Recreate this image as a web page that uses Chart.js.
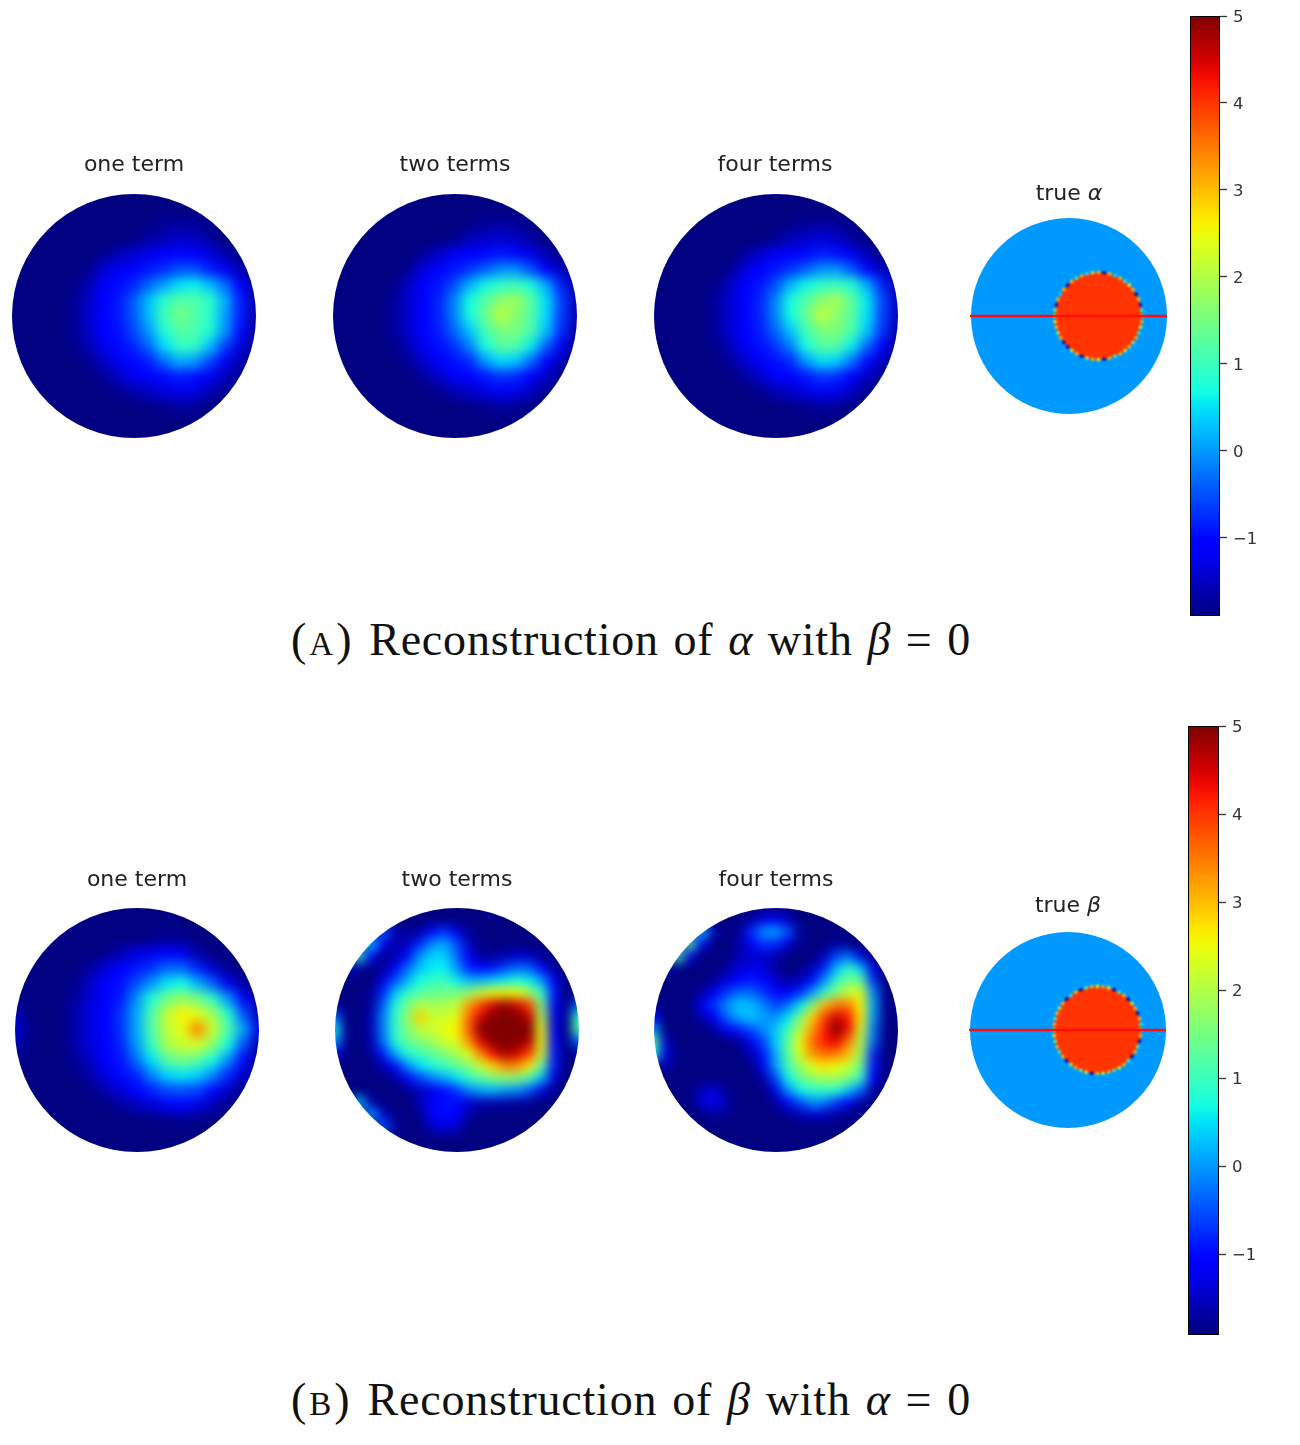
<!DOCTYPE html>
<html>
<head>
<meta charset="utf-8">
<title>Reconstruction of alpha and beta</title>
<script src="https://cdn.jsdelivr.net/npm/chart.js@4/dist/chart.umd.min.js"></script>
<style>
    html, body { margin: 0; padding: 0; background: #fff; }
    #page { position: relative; width: 1300px; height: 1445px; overflow: hidden; }
    #page canvas { position: absolute; }
    .panel_title {
        position: absolute; width: 240px; text-align: center; line-height: 26px;
        font-family: "DejaVu Sans"; font-size: 22px; color: #222; filter: blur(0.4px);
    }
    .caption {
        position: absolute; left: 291px; width: 680px; line-height: 50px;
        font-family: "Liberation Serif"; font-size: 46px; letter-spacing: 0.8px; color: #111;
        text-align: justify; text-align-last: justify;
    }
    .caption .tag { letter-spacing: 3px; }
    .caption .sc { font-size: 33px; }
</style>
</head>
<body>
<div id="page"></div>
<script>
"use strict";

// values, top row first, left column first
var alpha_one_term = [
    [-1.9,-1.9,-1.9,-1.9,-1.9,-1.9,-1.9,-1.9,-1.9,-1.9,-1.9,-1.9,-1.9,-1.9,-1.9,-1.9,-1.9],
    [-1.9,-1.9,-1.9,-1.9,-1.9,-1.9,-1.9,-1.9,-1.9,-1.9,-1.9,-1.9,-1.9,-1.9,-1.9,-1.9,-1.9],
    [-1.9,-1.9,-1.9,-1.9,-1.9,-1.9,-1.9,-1.9,-1.9,-1.85,-1.75,-1.7,-1.75,-1.85,-1.9,-1.9,-1.9],
    [-1.9,-1.9,-1.9,-1.9,-1.9,-1.9,-1.9,-1.9,-1.85,-1.7,-1.6,-1.45,-1.5,-1.7,-1.9,-1.9,-1.9],
    [-1.9,-1.9,-1.9,-1.9,-1.9,-1.9,-1.8,-1.6,-1.4,-1.25,-1.1,-1,-1.1,-1.3,-1.6,-1.85,-1.9],
    [-1.9,-1.9,-1.9,-1.9,-1.9,-1.85,-1.4,-1.2,-1.05,-0.9,-0.75,-0.5,-0.5,-0.85,-1.2,-1.6,-1.9],
    [-1.9,-1.9,-1.9,-1.9,-1.85,-1.6,-1.2,-1,-0.8,-0.35,0.05,0.5,0.6,0.25,-0.3,-1.1,-1.7],
    [-1.9,-1.9,-1.9,-1.9,-1.8,-1.5,-1.15,-0.9,-0.45,0.25,0.85,1.2,1.2,0.9,0.15,-0.85,-1.6],
    [-1.85,-1.9,-1.9,-1.9,-1.8,-1.45,-1.1,-0.9,-0.45,0.25,1,1.5,1.2,0.85,0.05,-0.85,-1.6],
    [-1.9,-1.9,-1.9,-1.9,-1.8,-1.5,-1.1,-0.95,-0.55,0,0.8,1.2,1.15,0.8,0,-0.95,-1.7],
    [-1.9,-1.9,-1.9,-1.9,-1.85,-1.6,-1.25,-1,-0.8,-0.35,0.45,0.95,0.95,0.3,-0.6,-1.3,-1.8],
    [-1.9,-1.9,-1.9,-1.9,-1.9,-1.8,-1.5,-1.2,-1,-0.85,-0.3,0.15,0.05,-0.55,-1.2,-1.6,-1.9],
    [-1.9,-1.9,-1.9,-1.9,-1.9,-1.9,-1.75,-1.5,-1.2,-1.1,-1,-0.85,-0.95,-1.2,-1.5,-1.8,-1.9],
    [-1.9,-1.9,-1.9,-1.9,-1.9,-1.9,-1.9,-1.8,-1.65,-1.5,-1.35,-1.25,-1.3,-1.55,-1.8,-1.9,-1.9],
    [-1.9,-1.9,-1.9,-1.9,-1.9,-1.9,-1.9,-1.9,-1.9,-1.85,-1.8,-1.7,-1.75,-1.9,-1.9,-1.9,-1.9],
    [-1.9,-1.9,-1.9,-1.9,-1.9,-1.9,-1.9,-1.9,-1.9,-1.9,-1.9,-1.9,-1.9,-1.9,-1.9,-1.9,-1.9],
    [-1.9,-1.9,-1.9,-1.9,-1.9,-1.9,-1.9,-1.9,-1.9,-1.9,-1.9,-1.9,-1.9,-1.9,-1.9,-1.9,-1.9],
];
var alpha_two_terms = [
    [-1.9,-1.9,-1.9,-1.9,-1.9,-1.9,-1.9,-1.9,-1.9,-1.9,-1.9,-1.9,-1.9,-1.9,-1.9,-1.9,-1.9],
    [-1.9,-1.9,-1.9,-1.9,-1.9,-1.9,-1.9,-1.9,-1.9,-1.9,-1.9,-1.9,-1.9,-1.9,-1.9,-1.9,-1.9],
    [-1.9,-1.9,-1.9,-1.9,-1.9,-1.9,-1.9,-1.9,-1.9,-1.85,-1.75,-1.7,-1.75,-1.85,-1.9,-1.9,-1.9],
    [-1.9,-1.9,-1.9,-1.9,-1.9,-1.9,-1.9,-1.9,-1.85,-1.55,-1.45,-1.4,-1.5,-1.7,-1.9,-1.9,-1.9],
    [-1.9,-1.9,-1.9,-1.9,-1.9,-1.9,-1.75,-1.45,-1.2,-1.1,-1,-0.9,-1,-1.25,-1.6,-1.85,-1.9],
    [-1.9,-1.9,-1.9,-1.9,-1.9,-1.8,-1.3,-1.1,-0.9,-0.7,-0.4,-0.1,-0.05,-0.5,-1.1,-1.55,-1.9],
    [-1.9,-1.9,-1.9,-1.9,-1.85,-1.5,-1.15,-0.9,-0.5,0.15,0.65,0.9,1,0.75,0.1,-0.85,-1.65],
    [-1.9,-1.9,-1.9,-1.9,-1.75,-1.4,-1.1,-0.8,-0.15,0.7,1.2,1.65,1.85,1.25,0.5,-0.6,-1.55],
    [-1.85,-1.9,-1.9,-1.9,-1.75,-1.4,-1.05,-0.8,-0.15,0.7,1.35,2.1,1.65,1.25,0.45,-0.65,-1.55],
    [-1.9,-1.9,-1.9,-1.9,-1.75,-1.4,-1.1,-0.85,-0.35,0.3,1.05,1.5,1.55,1.15,0.3,-0.75,-1.65],
    [-1.9,-1.9,-1.9,-1.9,-1.85,-1.55,-1.2,-0.95,-0.7,-0.15,0.7,1.25,1.2,0.6,-0.35,-1.2,-1.8],
    [-1.9,-1.9,-1.9,-1.9,-1.9,-1.75,-1.4,-1.15,-0.95,-0.75,0,0.45,0.35,-0.3,-1.05,-1.55,-1.9],
    [-1.9,-1.9,-1.9,-1.9,-1.9,-1.9,-1.7,-1.45,-1.15,-1.05,-0.9,-0.7,-0.8,-1.1,-1.45,-1.8,-1.9],
    [-1.9,-1.9,-1.9,-1.9,-1.9,-1.9,-1.9,-1.8,-1.6,-1.45,-1.3,-1.2,-1.25,-1.5,-1.8,-1.9,-1.9],
    [-1.9,-1.9,-1.9,-1.9,-1.9,-1.9,-1.9,-1.9,-1.9,-1.85,-1.8,-1.7,-1.75,-1.9,-1.9,-1.9,-1.9],
    [-1.9,-1.9,-1.9,-1.9,-1.9,-1.9,-1.9,-1.9,-1.9,-1.9,-1.9,-1.9,-1.9,-1.9,-1.9,-1.9,-1.9],
    [-1.9,-1.9,-1.9,-1.9,-1.9,-1.9,-1.9,-1.9,-1.9,-1.9,-1.9,-1.9,-1.9,-1.9,-1.9,-1.9,-1.9],
];
var alpha_four_terms = [
    [-1.9,-1.9,-1.9,-1.9,-1.9,-1.9,-1.9,-1.9,-1.9,-1.9,-1.9,-1.9,-1.9,-1.9,-1.9,-1.9,-1.9],
    [-1.9,-1.9,-1.9,-1.9,-1.9,-1.9,-1.9,-1.9,-1.9,-1.9,-1.9,-1.9,-1.9,-1.9,-1.9,-1.9,-1.9],
    [-1.9,-1.9,-1.9,-1.9,-1.9,-1.9,-1.9,-1.9,-1.9,-1.85,-1.75,-1.7,-1.75,-1.85,-1.9,-1.9,-1.9],
    [-1.9,-1.9,-1.9,-1.9,-1.9,-1.9,-1.9,-1.9,-1.8,-1.55,-1.45,-1.35,-1.45,-1.7,-1.9,-1.9,-1.9],
    [-1.9,-1.9,-1.9,-1.9,-1.9,-1.9,-1.75,-1.4,-1.2,-1.1,-1,-0.85,-0.95,-1.2,-1.55,-1.85,-1.9],
    [-1.9,-1.9,-1.9,-1.9,-1.9,-1.8,-1.3,-1.1,-0.9,-0.7,-0.4,-0.05,0,-0.45,-1.05,-1.5,-1.9],
    [-1.9,-1.9,-1.9,-1.9,-1.85,-1.5,-1.15,-0.9,-0.5,0.2,0.65,0.9,1,0.8,0.15,-0.8,-1.6],
    [-1.9,-1.9,-1.9,-1.9,-1.75,-1.4,-1.1,-0.8,-0.15,0.7,1.2,1.65,1.9,1.3,0.55,-0.55,-1.5],
    [-1.85,-1.9,-1.9,-1.9,-1.75,-1.4,-1.05,-0.8,-0.15,0.7,1.35,2.15,1.7,1.25,0.5,-0.6,-1.5],
    [-1.9,-1.9,-1.9,-1.9,-1.75,-1.4,-1.1,-0.85,-0.35,0.3,1.05,1.5,1.6,1.15,0.35,-0.7,-1.6],
    [-1.9,-1.9,-1.9,-1.9,-1.85,-1.55,-1.2,-0.95,-0.7,-0.15,0.7,1.25,1.2,0.6,-0.3,-1.15,-1.8],
    [-1.9,-1.9,-1.9,-1.9,-1.9,-1.75,-1.4,-1.15,-0.95,-0.75,0,0.5,0.4,-0.25,-1,-1.5,-1.9],
    [-1.9,-1.9,-1.9,-1.9,-1.9,-1.9,-1.7,-1.45,-1.15,-1.05,-0.9,-0.65,-0.75,-1.1,-1.45,-1.8,-1.9],
    [-1.9,-1.9,-1.9,-1.9,-1.9,-1.9,-1.9,-1.8,-1.6,-1.45,-1.3,-1.2,-1.25,-1.5,-1.8,-1.9,-1.9],
    [-1.9,-1.9,-1.9,-1.9,-1.9,-1.9,-1.9,-1.9,-1.9,-1.85,-1.8,-1.7,-1.75,-1.9,-1.9,-1.9,-1.9],
    [-1.9,-1.9,-1.9,-1.9,-1.9,-1.9,-1.9,-1.9,-1.9,-1.9,-1.9,-1.9,-1.9,-1.9,-1.9,-1.9,-1.9],
    [-1.9,-1.9,-1.9,-1.9,-1.9,-1.9,-1.9,-1.9,-1.9,-1.9,-1.9,-1.9,-1.9,-1.9,-1.9,-1.9,-1.9],
];
var beta_one_term = [
    [-1.9,-1.9,-1.9,-1.9,-1.9,-1.9,-1.9,-1.9,-1.9,-1.9,-1.9,-1.9,-1.9,-1.9,-1.9,-1.9,-1.9],
    [-1.9,-1.9,-1.9,-1.9,-1.9,-1.9,-1.9,-1.9,-1.9,-1.9,-1.9,-1.9,-1.9,-1.9,-1.9,-1.9,-1.9],
    [-1.9,-1.9,-1.9,-1.9,-1.9,-1.9,-1.9,-1.9,-1.9,-1.85,-1.75,-1.8,-1.9,-1.9,-1.9,-1.9,-1.9],
    [-1.9,-1.9,-1.9,-1.9,-1.9,-1.9,-1.85,-1.6,-1.35,-1.25,-1.15,-1.2,-1.65,-1.9,-1.9,-1.9,-1.9],
    [-1.9,-1.9,-1.9,-1.9,-1.9,-1.7,-1.35,-1.05,-0.9,-0.7,-0.35,-0.35,-0.8,-1.4,-1.8,-1.9,-1.9],
    [-1.9,-1.9,-1.9,-1.9,-1.8,-1.45,-1.1,-0.95,-0.5,0,0.55,0.7,0.2,-0.4,-1.2,-1.7,-1.9],
    [-1.85,-1.9,-1.9,-1.9,-1.7,-1.35,-1.05,-0.85,-0.05,0.8,1.45,1.8,1.5,0.9,0,-1,-1.7],
    [-1.6,-1.85,-1.9,-1.9,-1.65,-1.3,-1.05,-0.7,0.1,1.15,2.1,2.6,2.4,1.9,0.85,-0.45,-1.5],
    [-1.3,-1.85,-1.9,-1.9,-1.65,-1.3,-1.05,-0.7,0.1,1.15,2.1,2.45,3.4,2.2,1.2,0.1,-1.3],
    [-1.6,-1.85,-1.9,-1.9,-1.65,-1.35,-1.05,-0.8,0,0.95,1.9,2.2,2.3,1.7,0.7,-0.5,-1.6],
    [-1.85,-1.9,-1.9,-1.9,-1.75,-1.45,-1.15,-0.9,-0.3,0.5,1.25,1.5,1.3,0.7,-0.05,-1,-1.75],
    [-1.9,-1.9,-1.9,-1.9,-1.85,-1.65,-1.3,-1,-0.8,-0.15,0.4,0.55,0.4,-0.1,-0.8,-1.45,-1.9],
    [-1.9,-1.9,-1.9,-1.9,-1.9,-1.85,-1.6,-1.35,-1.1,-0.85,-0.55,-0.5,-0.6,-1,-1.45,-1.85,-1.9],
    [-1.9,-1.9,-1.9,-1.9,-1.9,-1.9,-1.9,-1.75,-1.55,-1.4,-1.2,-1.15,-1.3,-1.6,-1.85,-1.9,-1.9],
    [-1.9,-1.9,-1.9,-1.9,-1.9,-1.9,-1.9,-1.9,-1.9,-1.9,-1.85,-1.8,-1.85,-1.9,-1.9,-1.9,-1.9],
    [-1.9,-1.9,-1.9,-1.9,-1.9,-1.9,-1.9,-1.9,-1.9,-1.9,-1.9,-1.9,-1.9,-1.9,-1.9,-1.9,-1.9],
    [-1.9,-1.9,-1.9,-1.9,-1.9,-1.9,-1.9,-1.9,-1.9,-1.9,-1.9,-1.9,-1.9,-1.9,-1.9,-1.9,-1.9],
];
var beta_two_terms = [
    [-1.9,-1.9,-1.9,-1.9,-1.9,-1.9,-1.9,-1.9,-1.9,-1.9,-1.9,-1.9,-1.9,-1.9,-1.9,-1.9,-1.9,-1.9,-1.9,-1.9,-1.9],
    [-1.9,-1.9,-1.9,-1.9,-1.9,-1.9,-1.9,-1.9,-1.9,-1.9,-1.9,-1.9,-1.9,-1.9,-1.9,-1.9,-1.9,-1.9,-1.9,-1.9,-1.9],
    [-1.9,-1.9,-1.9,-1.9,-0.4,-1.6,-1.8,-1.7,-1,-0.7,-1.2,-1.8,-1.9,-1.9,-1.9,-1.9,-1.9,-1.9,-1.9,-1.9,-1.9],
    [-1.9,-1.9,-1.9,0.4,-1.2,-1.7,-1.5,-0.8,-0.1,0.1,-0.5,-1.5,-1.85,-1.9,-1.9,-1.9,-1.9,-1.9,-1.9,-1.9,-1.9],
    [-1.9,-1.9,0.9,-1,-1.8,-1.6,-1,0,0.4,0.4,-0.3,-1.2,-1.7,-1.75,-1.6,-1.4,-1.5,-1.8,-1.9,-1.9,-1.9],
    [-1.9,-1.5,-1.7,-1.9,-1.75,-1.1,-0.3,0.3,0.55,0.6,0,-0.8,-1.1,-0.9,-0.6,-0.3,-0.4,-1,-1.8,-1.9,-1.9],
    [-1.9,-1.9,-1.9,-1.9,-1.3,-0.5,0.2,0.7,0.95,1,0.6,0.2,0.2,0.4,0.6,0.75,0.6,0,-1.2,-1.9,-1.9],
    [-1.9,-1.9,-1.9,-1.8,-0.8,0.3,0.9,1.2,1.35,1.45,1.5,1.7,2.2,2.5,2.6,2.5,1.9,0.9,-0.9,-1.9,-1.9],
    [-1.7,-1.9,-1.9,-1.7,-0.4,0.75,1.5,2,1.9,1.9,2.1,3.2,3.9,4.5,4.9,4.5,3.9,1.5,-1.2,-1.8,-0.4],
    [-0.3,-1.85,-1.9,-1.6,-0.2,0.9,1.7,2.9,2.2,2.2,2.4,3.6,4.5,5,5,5,4.6,2,-1.3,-1.8,1],
    [0.6,-1.8,-1.9,-1.6,-0.2,0.9,1.6,2.1,2.2,2.5,2.6,3.7,5,5,5,5,5,2.4,-1.2,-1.9,1.2],
    [0,-1.8,-1.9,-1.65,-0.3,0.8,1.3,1.6,1.8,2.2,2.4,3.3,4.4,5,5,5,4.7,2.4,-1,-1.9,-0.4],
    [-1.2,-1.9,-1.9,-1.75,-0.9,0.15,0.8,1,1.3,1.6,1.9,2.4,3.4,4.3,4.8,4.5,3.9,2.2,-0.9,-1.9,-1.7],
    [-1.9,-1.9,-1.9,-1.9,-1.6,-1,-0.1,0.45,0.7,1,1.3,1.6,2.2,2.8,3.4,3.3,2.7,1.3,-0.9,-1.9,-1.9],
    [-1.9,-1.9,-1.9,-1.9,-1.9,-1.7,-1.2,-0.6,-0.2,0.1,0.5,0.9,1.2,1.5,1.7,1.6,1.1,0.2,-1.4,-1.9,-1.9],
    [-1.9,-1.9,-1.9,-1.9,-1.9,-1.9,-1.8,-1.5,-1.3,-1,-0.7,-0.2,0.1,0.2,0,-0.1,-0.5,-1.3,-1.8,-1.9,-1.9],
    [-1.9,-1.9,0.3,-1.6,-1.9,-1.9,-1.9,-1.6,-1.1,-0.95,-1,-1.4,-1.6,-1.6,-1.7,-1.7,-1.8,-1.9,-1.9,-1.9,-1.9],
    [-1.9,-1.9,-1.9,0.1,-1.4,-1.85,-1.9,-1.8,-1.15,-1,-1.05,-1.6,-1.9,-1.9,-1.9,-1.9,-1.9,-1.9,-1.9,-1.9,-1.9],
    [-1.9,-1.9,-1.9,-1.9,-0.4,-1.7,-1.9,-1.9,-1.5,-1.3,-1.45,-1.9,-1.9,-1.9,-1.9,-1.9,-1.9,-1.9,-1.9,-1.9,-1.9],
    [-1.9,-1.9,-1.9,-1.9,-1.9,-1.9,-1.9,-1.9,-1.9,-1.9,-1.9,-1.9,-1.9,-1.9,-1.9,-1.9,-1.9,-1.9,-1.9,-1.9,-1.9],
    [-1.9,-1.9,-1.9,-1.9,-1.9,-1.9,-1.9,-1.9,-1.9,-1.9,-1.9,-1.9,-1.9,-1.9,-1.9,-1.9,-1.9,-1.9,-1.9,-1.9,-1.9],
];
var beta_four_terms = [
    [-1.9,-1.9,-1.9,-1.9,-1.9,-1.9,-1.9,-1.9,-1.9,-1.9,-1.9,-1.9,-1.9,-1.9,-1.9,-1.9,-1.9,-1.9,-1.9,-1.9,-1.9],
    [-1.9,-1.9,-1.9,-1.9,-1.9,-1.9,-1.9,-1.9,-1.7,-1.3,-1.2,-1.5,-1.9,-1.9,-1.9,-1.9,-1.9,-1.9,-1.9,-1.9,-1.9],
    [-1.9,-1.9,-1.9,-1.9,0.3,-1.6,-1.9,-1.8,-0.8,-0.1,0.1,-0.5,-1.7,-1.9,-1.9,-1.9,-1.9,-1.9,-1.9,-1.9,-1.9],
    [-1.9,-1.9,-1.9,1.2,-1.2,-1.9,-1.9,-1.7,-1.1,-0.7,-0.8,-1.3,-1.85,-1.9,-1.9,-1.7,-1.85,-1.9,-1.9,-1.9,-1.9],
    [-1.9,-1.9,1.2,-1.3,-1.9,-1.9,-1.9,-1.6,-1.5,-1.4,-1.6,-1.9,-1.9,-1.9,-1.6,-0.6,-0.3,-1.3,-1.9,-1.9,-1.9],
    [-1.9,-1.6,-1.8,-1.9,-1.9,-1.9,-1.75,-1.35,-1.25,-1.3,-1.75,-1.9,-1.9,-1.6,-0.8,0.2,0.9,0.3,-1.3,-1.9,-1.9],
    [-1.9,-1.9,-1.9,-1.9,-1.9,-1.8,-1.3,-1.05,-0.9,-1,-1.4,-1.7,-1.5,-1,-0.1,0.9,1.5,1.3,-0.7,-1.9,-1.9],
    [-1.9,-1.9,-1.9,-1.9,-1.7,-1.1,-0.7,-0.3,-0.3,-0.7,-1,-1.05,-0.8,0,0.9,1.6,2.2,2.3,-0.1,-1.85,-1.9],
    [-1.8,-1.9,-1.9,-1.9,-1.2,-0.7,-0.05,0.3,0.2,-0.1,-0.6,-0.35,0.5,1.5,3,3.5,3.5,2.6,0.1,-1.8,-1.9],
    [-1,-1.9,-1.9,-1.9,-1.6,-1.15,-0.4,0.15,0.3,0.05,-0.1,0.5,1.5,2.8,3.9,4.6,4.2,2.6,0,-1.8,-1.9],
    [0,-1.9,-1.9,-1.9,-1.9,-1.7,-1.2,-0.9,-0.5,-0.1,0.3,1,2,3.2,4.2,5,4.3,2.3,-0.2,-1.85,-1.9],
    [1.3,-1.5,-1.9,-1.9,-1.9,-1.9,-1.9,-1.7,-1.2,-0.6,0.35,1.2,2.5,3.6,4.2,4.4,3.5,2,-0.3,-1.9,-1.9],
    [0.8,-1.3,-1.8,-1.9,-1.9,-1.9,-1.9,-1.9,-1.6,-0.9,0.1,1.2,2.3,3.3,3.6,3.5,3,1.8,-0.8,-1.9,-1.9],
    [-1.9,-1.6,-1.9,-1.9,-1.9,-1.9,-1.9,-1.9,-1.85,-1.2,0,1,1.8,2.4,2.7,2.5,2.2,1.4,-0.9,-1.9,-1.9],
    [-1.9,-1.9,-1.9,-1.9,-1.9,-1.9,-1.9,-1.9,-1.9,-1.7,-0.6,0.6,1.3,1.7,1.9,1.9,1.6,0.9,-1.1,-1.9,-1.9],
    [-1.9,-1.9,-1.9,-1.9,-1.55,-1.35,-1.8,-1.9,-1.9,-1.9,-1.3,-0.1,0.6,0.85,0.9,0.85,0.3,-0.4,-1.7,-1.9,-1.9],
    [-1.9,-1.9,-1.9,-1.9,-1.4,-1.2,-1.6,-1.9,-1.9,-1.9,-1.75,-1.1,-0.6,-0.1,-0.2,-0.7,-1.2,-1.7,-1.9,-1.9,-1.9],
    [-1.9,-1.9,-1.9,-1.9,-1.9,-1.7,-1.8,-1.9,-1.9,-1.9,-1.9,-1.8,-1.6,-1.4,-1.5,-1.7,-1.85,-1.9,-1.9,-1.9,-1.9],
    [-1.9,-1.9,-1.9,-1.9,-1.9,-1.9,-1.9,-1.9,-1.9,-1.9,-1.9,-1.9,-1.9,-1.9,-1.9,-1.9,-1.9,-1.9,-1.9,-1.9,-1.9],
    [-1.9,-1.9,-1.9,-1.9,-1.9,-1.9,-1.9,-1.9,-1.9,-1.9,-1.9,-1.9,-1.9,-1.9,-1.9,-1.9,-1.9,-1.9,-1.9,-1.9,-1.9],
    [-1.9,-1.9,-1.9,-1.9,-1.9,-1.9,-1.9,-1.9,-1.9,-1.9,-1.9,-1.9,-1.9,-1.9,-1.9,-1.9,-1.9,-1.9,-1.9,-1.9,-1.9],
];

// the true coefficient: background, inclusion and the noisy values on its rim
var true_background = 0;
var true_inclusion = 4;
var inclusion_center = 0.3;
var inclusion_radius = 0.445;
var true_alpha_rim = [3,1,-1.5,3,-1.9,3,2.5,0.8,3,0.6,3,-1.8,3,2,0.6,3,1,3,-1.7,3,0.5,3,-1.8,1.5,2.5,2.6,3,2,3,-1.6,-1.8,2,3,-1.8,2,3,2.6,-1.7,3,1,3,2.5,3,1.5,3,1,2,3];
var true_beta_rim = [3,0.8,3,-1.8,3,2,-1.7,3,0.8,-1.7,2.5,3,2.6,3,1,-1.6,3,0.6,-1.8,3,2,3,1,3,2,2.5,1.5,3,1,3,-1.5,2,3,1.5,2.6,-1.7,3,2,3,1,2.5,3,1,-1.7,3,1,-1.6,3];
var section_line_x = [-1.01, 1];
var section_line_y = [0, 0];

// colorbar
var colorbar_ticks = [-1, 0, 1, 2, 3, 4, 5];
var alpha_colorbar_range = [-1.9, 5];
var beta_colorbar_range = [-1.92, 5];
var color_min = -1.9;
var color_max = 5;

var page = document.getElementById("page");

function jet(value) {
    var t = (value - color_min) / (color_max - color_min);
    t = Math.max(0, Math.min(1, t));
    var r = ramp(t, [[0, 0], [0.35, 0], [0.66, 1], [0.89, 1], [1, 0.5]]);
    var g = ramp(t, [[0, 0], [0.125, 0], [0.375, 1], [0.64, 1], [0.91, 0], [1, 0]]);
    var b = ramp(t, [[0, 0.5], [0.11, 1], [0.34, 1], [0.65, 0], [1, 0]]);
    return "rgb(" + Math.round(r * 255) + "," + Math.round(g * 255) + "," + Math.round(b * 255) + ")";
}

function ramp(t, stops) {
    for (var i = 1; i < stops.length; i++) {
        if (t <= stops[i][0]) {
            var f = (t - stops[i - 1][0]) / (stops[i][0] - stops[i - 1][0]);
            return stops[i - 1][1] + f * (stops[i][1] - stops[i - 1][1]);
        }
    }
    return stops[stops.length - 1][1];
}

function unitPixels(chart) {
    return chart.scales.x.getPixelForValue(1) - chart.scales.x.getPixelForValue(0);
}

// smooths what has been drawn so far and cuts it to the unit disc
var discMask = {
    id: "discMask",
    afterDatasetDraw: function (chart, args) {
        var dataset = chart.data.datasets[args.index];
        if (!dataset.lastHeat) {
            return;
        }
        var ctx = chart.ctx;
        var area = chart.chartArea;
        ctx.save();
        ctx.beginPath();
        ctx.rect(area.left, area.top, area.width, area.height);
        ctx.clip();
        ctx.filter = "blur(" + dataset.blur + "px)";
        ctx.drawImage(chart.canvas, 0, 0);
        ctx.filter = "none";
        ctx.globalCompositeOperation = "destination-in";
        ctx.beginPath();
        ctx.arc(chart.scales.x.getPixelForValue(0), chart.scales.y.getPixelForValue(0), unitPixels(chart), 0, Math.PI * 2);
        ctx.fill();
        ctx.restore();
    },
};

function addCanvas(left, top, width, height) {
    var canvas = document.createElement("canvas");
    canvas.width = width;
    canvas.height = height;
    canvas.style.left = left + "px";
    canvas.style.top = top + "px";
    canvas.style.width = width + "px";
    canvas.style.height = height + "px";
    page.appendChild(canvas);
    return canvas;
}

function discSide(radius) {
    return 2 * Math.round(radius * 1.15);
}

function discOptions(radius) {
    var limit = discSide(radius) / (2 * radius);
    return {
        responsive: false,
        animation: false,
        events: [],
        layout: { autoPadding: false },
        scales: {
            x: { type: "linear", min: -limit, max: limit, display: false },
            y: { type: "linear", min: -limit, max: limit, display: false },
        },
        plugins: { legend: { display: false }, tooltip: { enabled: false } },
    };
}

function gridCells(grid) {
    var cells = [];
    grid.forEach(function (row, i) {
        row.forEach(function (value, j) {
            cells.push({
                x: -1 + (2 * j) / (row.length - 1),
                y: 1 - (2 * i) / (grid.length - 1),
                v: value,
            });
        });
    });
    return cells;
}

function drawHeatDisc(grid, centerX, centerY, radius, blur) {
    var side = discSide(radius);
    new Chart(addCanvas(centerX - side / 2, centerY - side / 2, side, side), {
        type: "scatter",
        data: {
            datasets: [
                {
                    data: gridCells(grid),
                    lastHeat: true,
                    blur: blur,
                    pointStyle: "rect",
                    pointBorderWidth: 0,
                    pointRadius: function (ctx) {
                        return (unitPixels(ctx.chart) * 2) / (grid.length - 1) / Math.SQRT2 + 1;
                    },
                    pointBackgroundColor: function (ctx) {
                        return jet(ctx.raw.v);
                    },
                },
            ],
        },
        options: discOptions(radius),
        plugins: [discMask],
    });
}

function drawTrueDisc(rim, centerX, centerY, radius) {
    var side = discSide(radius);
    var rimPoints = rim.map(function (value, i) {
        var angle = (i * 2 * Math.PI) / rim.length;
        return {
            x: inclusion_center + inclusion_radius * Math.cos(angle),
            y: inclusion_radius * Math.sin(angle),
            v: value,
        };
    });
    new Chart(addCanvas(centerX - side / 2, centerY - side / 2, side, side), {
        type: "scatter",
        data: {
            datasets: [
                {
                    // background of the disc
                    data: [{ x: 0, y: 0, v: true_background }],
                    order: 3,
                    pointBorderWidth: 0,
                    pointRadius: function (ctx) {
                        return unitPixels(ctx.chart) + 2;
                    },
                    pointBackgroundColor: jet(true_background),
                },
                {
                    data: [{ x: inclusion_center, y: 0, v: true_inclusion }],
                    order: 2,
                    pointBorderWidth: 0,
                    pointRadius: function (ctx) {
                        return unitPixels(ctx.chart) * inclusion_radius;
                    },
                    pointBackgroundColor: jet(true_inclusion),
                },
                {
                    data: rimPoints,
                    order: 1,
                    lastHeat: true,
                    blur: 0.8,
                    pointBorderWidth: 0,
                    pointRadius: 1.8,
                    pointBackgroundColor: function (ctx) {
                        return jet(ctx.raw.v);
                    },
                },
                {
                    type: "line",
                    order: 0,
                    data: section_line_x.map(function (x, i) {
                        return { x: x, y: section_line_y[i] };
                    }),
                    borderColor: "#ff0d0d",
                    borderWidth: 2.6,
                    pointRadius: 0,
                },
            ],
        },
        options: discOptions(radius),
        plugins: [discMask],
    });
}

function drawColorbar(range, barLeft, barRight, barTop, barBottom) {
    var axisWidth = 70;
    var pad = 10;
    var canvas = addCanvas(barLeft - pad, barTop - pad, barRight - barLeft + pad + axisWidth, barBottom - barTop + 2 * pad);
    new Chart(canvas, {
        type: "bar",
        data: {
            labels: ["colorbar"],
            datasets: [
                {
                    data: [range],
                    barPercentage: 1,
                    categoryPercentage: 1,
                    borderColor: "#000",
                    borderWidth: 1.4,
                    borderSkipped: false,
                    backgroundColor: function (ctx) {
                        var area = ctx.chart.chartArea;
                        if (!area) {
                            return "#00f";
                        }
                        var y = ctx.chart.scales.y;
                        var gradient = ctx.chart.ctx.createLinearGradient(0, y.getPixelForValue(range[0]), 0, y.getPixelForValue(range[1]));
                        for (var i = 0; i <= 40; i++) {
                            gradient.addColorStop(i / 40, jet(range[0] + ((range[1] - range[0]) * i) / 40));
                        }
                        return gradient;
                    },
                },
            ],
        },
        options: {
            responsive: false,
            animation: false,
            events: [],
            layout: { autoPadding: false, padding: { left: pad, top: pad, bottom: pad, right: 0 } },
            scales: {
                x: { display: false },
                y: {
                    position: "right",
                    min: range[0],
                    max: range[1],
                    afterBuildTicks: function (scale) {
                        scale.ticks = colorbar_ticks.map(function (value) {
                            return { value: value };
                        });
                    },
                    afterFit: function (scale) {
                        // the tick labels may hang over the padding, keep the bar at full height
                        scale.width = axisWidth;
                        scale.paddingTop = 0;
                        scale.paddingBottom = 0;
                    },
                    grid: { drawOnChartArea: false, tickLength: 7, tickColor: "#333", tickWidth: 1.3 },
                    border: { display: false },
                    ticks: {
                        padding: 6,
                        labelOffset: 2,
                        color: "#333",
                        font: { family: "DejaVu Sans", size: 16.5 },
                        callback: function (value) {
                            return value < 0 ? "\u2212" + Math.abs(value) : String(value);
                        },
                    },
                },
            },
            plugins: { legend: { display: false }, tooltip: { enabled: false } },
        },
    });
}

function addTitle(html, centerX, centerY) {
    var title = document.createElement("div");
    title.className = "panel_title";
    title.style.left = centerX - 120 + "px";
    title.style.top = centerY - 13 + "px";
    title.innerHTML = html;
    page.appendChild(title);
}

function addCaption(html, top) {
    var caption = document.createElement("div");
    caption.className = "caption";
    caption.style.top = top + "px";
    caption.innerHTML = html;
    page.appendChild(caption);
}

drawHeatDisc(alpha_one_term, 134, 316, 122, 6);
drawHeatDisc(alpha_two_terms, 455, 316, 122, 6);
drawHeatDisc(alpha_four_terms, 776, 316, 122, 6);
drawTrueDisc(true_alpha_rim, 1069, 316, 98);
drawColorbar(alpha_colorbar_range, 1190, 1220, 16, 616);

drawHeatDisc(beta_one_term, 137, 1030, 122, 6);
drawHeatDisc(beta_two_terms, 457, 1030, 122, 5.5);
drawHeatDisc(beta_four_terms, 776, 1030, 122, 5.5);
drawTrueDisc(true_beta_rim, 1068, 1030, 98);
drawColorbar(beta_colorbar_range, 1188, 1219, 726, 1335);

addTitle("one term", 134, 164);
addTitle("two terms", 455, 164);
addTitle("four terms", 775, 164);
addTitle("true <i>\u03b1</i>", 1069, 193);
addTitle("one term", 137, 879);
addTitle("two terms", 457, 879);
addTitle("four terms", 776, 879);
addTitle("true <i>\u03b2</i>", 1068, 905);

addCaption('<span class="tag">(<span class="sc">A</span>)</span> Reconstruction of <i>\u03b1</i> with <i>\u03b2</i> = 0', 615);
addCaption('<span class="tag">(<span class="sc">B</span>)</span> Reconstruction of <i>\u03b2</i> with <i>\u03b1</i> = 0', 1375);
</script>
</body>
</html>
